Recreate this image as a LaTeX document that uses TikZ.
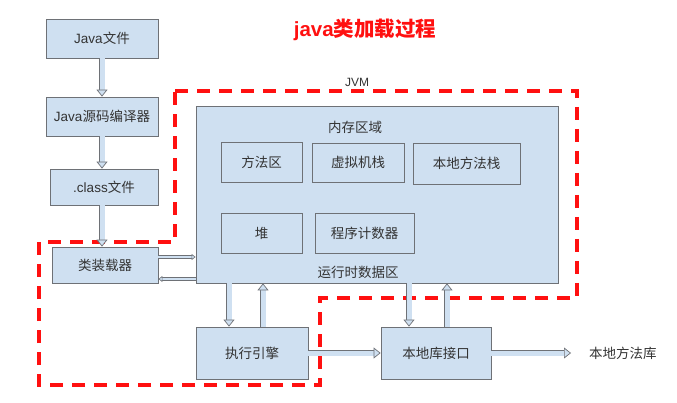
\documentclass[tikz,border=0pt]{standalone}
\usepackage{fontspec}
\setmainfont{Liberation Sans}
\newfontfamily\cjk{Noto Sans CJK SC}
\usepackage{tikz}
\usetikzlibrary{positioning}
\usetikzlibrary{arrows.meta}
\definecolor{boxfill}{HTML}{CFE0F1}
\definecolor{boxline}{HTML}{6E7176}
\definecolor{txt}{HTML}{333333}
\definecolor{jvmred}{HTML}{FF1010}

\begin{document}
\begin{tikzpicture}[x=1pt,y=-1pt,
  box/.style={draw=boxline,fill=boxfill,line width=0.8pt,text=txt,inner sep=0pt,font=\cjk\fontsize{13.5}{16}\selectfont},
  label/.style={text=txt,inner sep=0pt,font=\cjk\fontsize{13.5}{16}\selectfont},
  hollow/.style={draw=boxline,double=boxfill,double distance=5pt,line width=0.7pt,
    -{Triangle[open,fill=boxfill,length=7pt,width=11pt,line width=0.7pt]}},
  thinhollow/.style={draw=boxline,double=boxfill,double distance=2.4pt,line width=0.6pt,
    -{Triangle[open,fill=boxfill,length=4pt,width=6pt,line width=0.6pt]}}]
\useasboundingbox (0,0) rectangle (677,403);

\draw[jvmred,line width=4pt,dash pattern=on 13pt off 9pt](175,91)--(577,91)--(577,298)--(320,298)--(320,385)--(39,385)--(39,242)--(175,242)--cycle;

\node[text=jvmred,inner sep=0pt,font=\cjk\bfseries\fontsize{20.5}{24}\selectfont] (title) at (365,30) {{\rmfamily\bfseries java}类加载过程};
\node[label,font=\fontsize{12}{14}\selectfont] (jvm) at (357,82) {JVM};

\node[box,minimum width=112pt,minimum height=39pt] (java) at (102,38.5) {{\rmfamily Java}文件};
\node[box,minimum width=112pt,minimum height=39pt] (compiler) at (102,116.5) {{\rmfamily Java}源码编译器};
\node[box,minimum width=108pt,minimum height=36pt] (classf) at (104,187) {{\rmfamily .class}文件};
\node[box,minimum width=106pt,minimum height=36pt] (loader) at (105,265) {类装载器};

\node[box,minimum width=362pt,minimum height=177pt] (mem) at (377,194.5) {};
\node[label] (memtop) at (355,127) {内存区域};
\node[label] (membot) at (358,272) {运行时数据区};
\node[box,minimum width=81pt,minimum height=40pt] (method) at (261.5,162) {方法区};
\node[box,minimum width=92pt,minimum height=39pt] (vmstack) at (358,162.5) {虚拟机栈};
\node[box,minimum width=107pt,minimum height=41pt] (nstack) at (466.5,163.5) {本地方法栈};
\node[box,minimum width=81pt,minimum height=40pt] (heap) at (261.5,233) {堆};
\node[box,minimum width=99pt,minimum height=40pt] (pc) at (364.5,233) {程序计数器};

\node[box,minimum width=112pt,minimum height=52pt] (engine) at (252,353) {执行引擎};
\node[box,minimum width=110pt,minimum height=52pt] (native) at (436,353) {本地库接口};
\node[label,anchor=west] (lib) at (589,353) {本地方法库};

\draw[hollow](java.south)--(compiler.north);
\draw[hollow](compiler.south)--(compiler.south|-classf.north);
\draw[hollow](compiler.south|-classf.south)--(compiler.south|-loader.north);
\draw[thinhollow]([yshift=8pt]loader.east)--([yshift=8pt]loader.east-|mem.west);
\draw[thinhollow]([yshift=-14pt]loader.east-|mem.west)--([yshift=-14pt]loader.east);
\draw[hollow]([xshift=-23pt]engine.north|-mem.south)--([xshift=-23pt]engine.north);
\draw[hollow]([xshift=11pt]engine.north)--([xshift=11pt]engine.north|-mem.south);
\draw[hollow]([xshift=-27pt]native.north|-mem.south)--([xshift=-27pt]native.north);
\draw[hollow]([xshift=11pt]native.north)--([xshift=11pt]native.north|-mem.south);
\draw[hollow](engine.east)--(native.west);
\draw[hollow](native.east)--([xshift=-18pt]lib.west);
\end{tikzpicture}
\end{document}
